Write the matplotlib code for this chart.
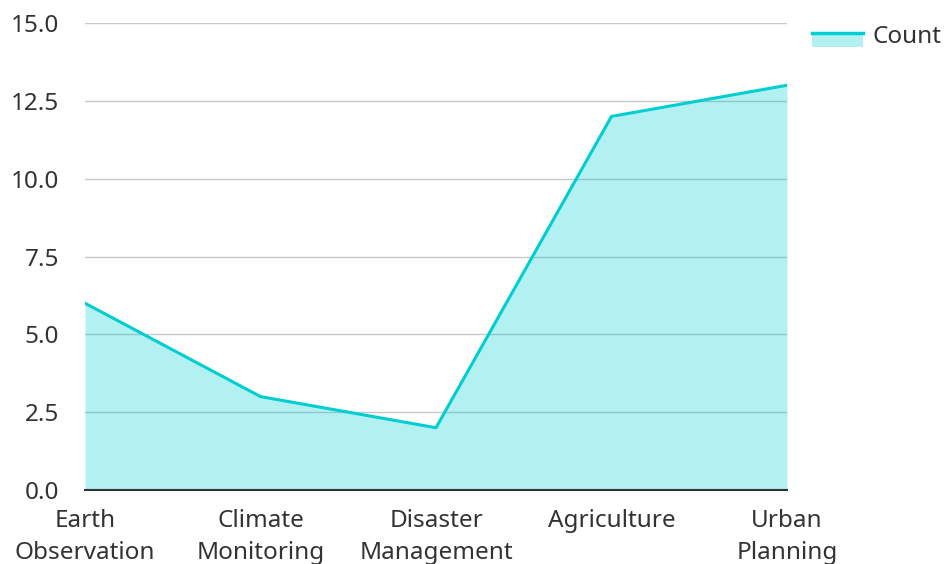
import matplotlib.pyplot as plt
from matplotlib.legend_handler import HandlerBase
from matplotlib.lines import Line2D
from matplotlib.patches import Rectangle

plt.rcParams['font.family'] = ['Noto Sans', 'DejaVu Sans']

categories = ['Earth\nObservation', 'Climate\nMonitoring', 'Disaster\nManagement',
              'Agriculture', 'Urban\nPlanning']
counts = [6, 3, 2, 12, 13]
yticks = [0, 2.5, 5, 7.5, 10, 12.5, 15]

line_color = '#00CED1'
text_color = '#333333'
fsize = 17.5


class AreaHandler(HandlerBase):
    # line on top edge, light fill underneath
    def create_artists(self, legend, orig_handle, xdescent, ydescent,
                       width, height, fontsize, trans):
        top = -ydescent + height * 0.55
        fill = Rectangle((-xdescent, top - 9.5), width, 9.5,
                         facecolor=line_color, alpha=0.3, linewidth=0, transform=trans)
        line = Line2D([-xdescent, -xdescent + width], [top, top],
                      color=line_color, linewidth=2.5, transform=trans)
        return [fill, line]


fig = plt.figure(figsize=(9.44, 5.64), dpi=100)
ax = fig.add_axes([85 / 944, 1 - 490 / 564, (787 - 85) / 944, (490 - 23) / 564])

x = list(range(len(categories)))
ax.fill_between(x, counts, 0, color=line_color, alpha=0.3, linewidth=0)
area_line, = ax.plot(x, counts, color=line_color, linewidth=2.2)

ax.set_xlim(0, len(categories) - 1)
ax.set_ylim(0, 15)
ax.set_yticks(yticks)
ax.set_yticklabels([f'{v:.1f}' for v in yticks])
ax.set_xticks(x)
ax.set_xticklabels(categories, linespacing=1.4)

ax.grid(axis='y', color='#c8c8c8', linewidth=1)
ax.set_axisbelow(True)
ax.tick_params(axis='both', length=0, labelsize=fsize, colors=text_color)
ax.tick_params(axis='y', pad=18.5)
ax.tick_params(axis='x', pad=14)
for side in ['top', 'right', 'left']:
    ax.spines[side].set_visible(False)
ax.spines['bottom'].set_color('#333333')
ax.spines['bottom'].set_linewidth(1.5)

leg = fig.legend([area_line], ['Count'], loc='upper right', bbox_to_anchor=(1.021, 0.995),
                 frameon=False, fontsize=fsize, handlelength=2.1, handletextpad=0.4,
                 handler_map={area_line: AreaHandler()})
for t in leg.get_texts():
    t.set_color(text_color)

fig.savefig('out.png', dpi=100)
